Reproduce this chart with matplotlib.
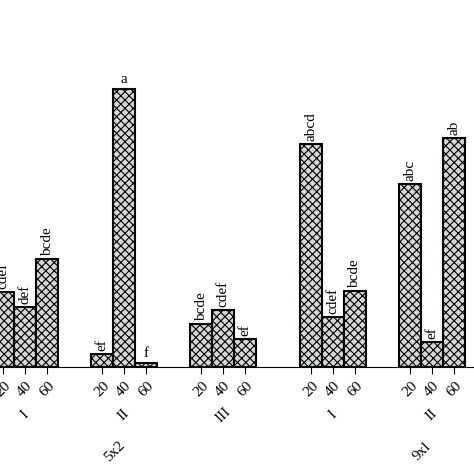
import matplotlib.pyplot as plt

plt.rcParams['font.family'] = ['Liberation Serif', 'DejaVu Serif']
plt.rcParams['hatch.linewidth'] = 0.8

# group centres (the "40" tick), values per dose 20/40/60
centres = [1.14, 5.64, 10.14, 15.14, 19.64]
doses = ["20", "40", "60"]
groups = ["I", "II", "III", "I", "II"]
values = [[75, 60, 108], [13, 278, 4], [43, 57, 28], [223, 50, 76], [183, 25, 229]]
letters = [["cdef", "def", "bcde"], ["ef", "a", "f"], ["bcde", "cdef", "ef"],
           ["abcd", "cdef", "bcde"], ["abc", "ef", "ab"]]
blocks = [("5x2", 5.2), ("9xl", 19.2)]

fig = plt.figure(figsize=(4.74, 4.74), dpi=100)
ax = fig.add_axes([0, 0.226, 1, 0.774])

ticks, ticklabels = [], []
for c, vals, labs in zip(centres, values, letters):
    for k, (v, lab) in enumerate(zip(vals, labs)):
        x = c + (k - 1)
        ax.bar(x, v, width=1, facecolor='#d3d7d7', edgecolor='black', hatch='xxxx', linewidth=1.5)
        ax.text(x, v + 3, lab, ha='center', va='bottom', rotation=90 if len(lab) > 1 else 0,
                fontsize=11)
        ticks.append(x)
        ticklabels.append(doses[k])

ax.set_xlim(0, 21.55)
ax.set_ylim(0, 367)
ax.set_xticks(ticks)
ax.set_xticklabels(ticklabels, rotation=45, fontsize=11)
ax.tick_params(axis='x', length=5)
ax.set_yticks([])
for s in ['left', 'right', 'top']:
    ax.spines[s].set_visible(False)

for c, g in zip(centres, groups):
    ax.text(c, -48, g, rotation=45, ha='center', va='center', fontsize=11)
for name, x in blocks:
    ax.text(x, -85, name, rotation=45, ha='center', va='center', fontsize=11)

fig.savefig("out.png", dpi=100)
